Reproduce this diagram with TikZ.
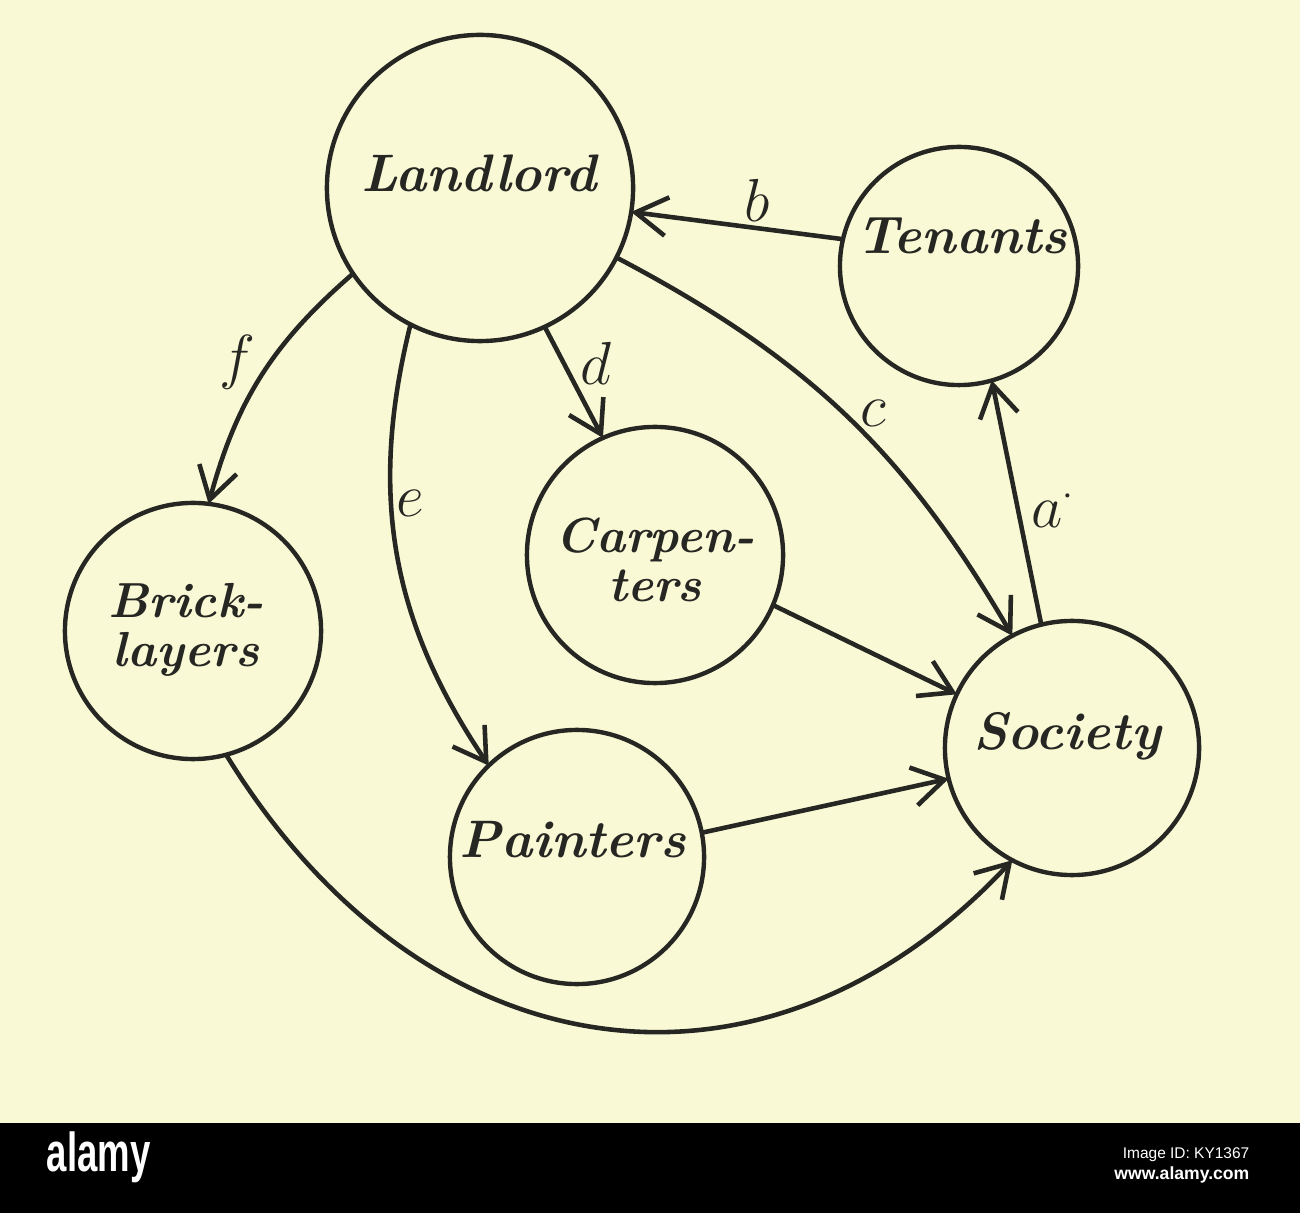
\documentclass[tikz,border=0pt]{standalone}
\usepackage{fontspec}
\usepackage{graphicx}
\newfontfamily\alamyfont{Liberation Sans}
\usetikzlibrary{arrows.meta}
\definecolor{paper}{RGB}{250,249,214}
\definecolor{ink}{RGB}{38,38,34}
\tikzset{
 blob/.style={circle, draw=ink, line width=1.25pt, inner sep=0pt, outer sep=0pt, minimum size=#1},
 word/.style={text=ink, font=\fontsize{15}{13}\selectfont\bfseries\itshape, align=center, inner sep=0pt},
 wordtwo/.style={text=ink, font=\fontsize{14}{14}\selectfont\bfseries\itshape, align=center, inner sep=0pt},
 lab/.style={text=ink, font=\fontsize{16}{17}\selectfont, inner sep=0pt},
 arr/.style={draw=ink, line width=1.3pt, -{Straight Barb[length=9pt,width=11pt,line width=1.3pt]}},
 barword/.style={text=white, inner sep=0pt},
}
\begin{document}
\begin{tikzpicture}[x=0.01cm,y=0.01cm]
\useasboundingbox (0,0) rectangle (1300,-1213);
\fill[paper] (0,0) rectangle (1300,-1213);
\fill[black] (0,-1123) rectangle (1300,-1213);

% circles
\node[blob=3.06cm] (L) at (480,-188) {};
\node[blob=2.38cm] (T) at (959,-266) {};
\node[blob=2.56cm] (C) at (655,-555) {};
\node[blob=2.56cm] (B) at (193,-631) {};
\node[blob=2.54cm] (S) at (1072,-748) {};
\node[blob=2.54cm] (P) at (577,-857) {};

% names
\node[word] (tL) at (479,-173) {Landlord};
\node[word] (tT) at (962,-236) {Tenants};
\node[wordtwo] (tC) at (655,-560) {Carpen-\\ters};
\node[wordtwo] (tB) at (186,-630) {Brick-\\layers};
\node[word] (tS) at (1067,-736) {Society};
\node[word] (tP) at (573,-840) {Painters};

% connectors
\draw[arr] (T.167) -- (L.-9);
\draw[arr] (L.-27) to[bend left=16] (S.118);
\draw[arr] (S.104) -- (T.-74);
\draw[arr] (L.-65) -- (C.114);
\draw[arr] (L.-117) to[bend right=24] (P.134);
\draw[arr] (L.-146) to[bend right=17] (B.83);
\draw[arr] (C.-23) -- (S.155);
\draw[arr] (P.11) -- (S.-166);
\draw[arr] (B.-75) .. controls +(-58.5:380) and +(-133:360) .. (S.-118);

% edge labels
\node[lab] (la) at (1053,-508) {$a^{\cdot}$};
\node[lab] (lb) at (757,-200) {$b$};
\node[lab] (lc) at (873,-413) {$c$};
\node[lab] (ld) at (596,-363) {$d$};
\node[lab] (le) at (410,-503) {$e$};
\node[lab] (lf) at (237,-362) {$f$};

% stock-photo bar
\node[barword, anchor=south west] (logo) at (46,-1184) {\alamyfont\bfseries\fontsize{13}{13}\selectfont\scalebox{0.8}[1.2]{alamy}};
\node[barword, anchor=south east] (imgid) at (1250,-1162) {\alamyfont\fontsize{4.4}{5}\selectfont Image ID: KY1367};
\node[barword, anchor=south east] (web) at (1250,-1184) {\alamyfont\bfseries\fontsize{5}{6}\selectfont www.alamy.com};
\end{tikzpicture}
\end{document}
